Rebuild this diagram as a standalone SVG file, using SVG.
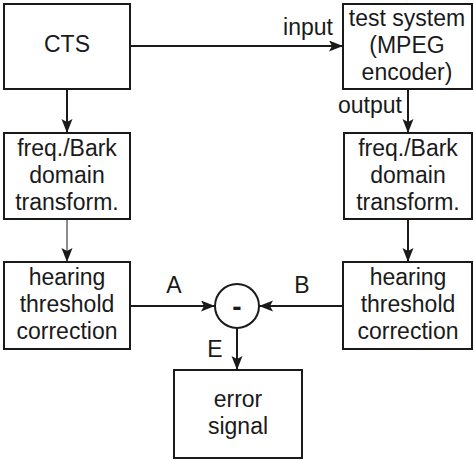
<svg xmlns="http://www.w3.org/2000/svg" width="474" height="460" viewBox="0 0 474 460">
<style>
.box{fill:#fff;stroke:#1a1a1a;stroke-width:2}
.t{font-family:"Liberation Sans",Arial,sans-serif;font-size:23px;fill:#1a1a1a;text-anchor:middle}
.lbl{font-family:"Liberation Sans",Arial,sans-serif;font-size:23px;fill:#1a1a1a;text-anchor:middle}
.c{stroke:#1a1a1a;stroke-width:2;fill:none}
.thin{stroke:#1a1a1a;stroke-width:1;fill:none}
</style>
<defs>
<marker id="ah" markerUnits="userSpaceOnUse" markerWidth="15" markerHeight="12" refX="14" refY="5.5" orient="auto">
<path d="M0,0 L14,5.5 L0,11 L3,5.5 z" fill="#1a1a1a"/>
</marker>
</defs>
<rect width="474" height="460" fill="#fff"/>
<g id="connectors">
<line class="c" x1="67" y1="89" x2="67" y2="133" marker-end="url(#ah)"/>
<line class="c" x1="130" y1="46" x2="343" y2="46" marker-end="url(#ah)"/>
<line class="c" x1="408" y1="89" x2="408" y2="133" marker-end="url(#ah)"/>
<line class="thin" x1="67" y1="219" x2="67" y2="262" marker-end="url(#ah)"/>
<line class="c" x1="408" y1="219" x2="408" y2="262" marker-end="url(#ah)"/>
<line class="c" x1="130" y1="306" x2="215" y2="306" marker-end="url(#ah)"/>
<line class="c" x1="343" y1="306" x2="259" y2="306" marker-end="url(#ah)"/>
<line class="c" x1="237" y1="328" x2="237" y2="370" marker-end="url(#ah)"/>
<text class="lbl" x="308" y="35">input</text>
<text class="lbl" x="370" y="113">output</text>
<text class="lbl" x="174" y="293">A</text>
<text class="lbl" x="302" y="293">B</text>
<text class="lbl" x="215" y="357">E</text>
</g>
<g id="cts">
<rect class="box" x="4" y="4" width="126" height="85"/>
<text class="t" x="67" y="52">CTS</text>
</g>
<g id="test-system">
<rect class="box" x="343" y="4" width="129" height="85"/>
<text class="t" x="407" y="26">test system</text>
<text class="t" x="407" y="53">(MPEG</text>
<text class="t" x="407" y="80">encoder)</text>
</g>
<g id="freq-left">
<rect class="box" x="4" y="133" width="126" height="86"/>
<text class="t" x="67" y="156">freq./Bark</text>
<text class="t" x="67" y="183">domain</text>
<text class="t" x="67" y="210">transform.</text>
</g>
<g id="freq-right">
<rect class="box" x="344" y="133" width="128" height="86"/>
<text class="t" x="408" y="156">freq./Bark</text>
<text class="t" x="408" y="183">domain</text>
<text class="t" x="408" y="210">transform.</text>
</g>
<g id="hearing-left">
<rect class="box" x="4" y="262" width="126" height="87"/>
<text class="t" x="67" y="285">hearing</text>
<text class="t" x="67" y="312">threshold</text>
<text class="t" x="67" y="339">correction</text>
</g>
<g id="hearing-right">
<rect class="box" x="343" y="262" width="129" height="87"/>
<text class="t" x="408" y="285">hearing</text>
<text class="t" x="408" y="312">threshold</text>
<text class="t" x="408" y="339">correction</text>
</g>
<g id="subtract">
<circle class="c" cx="237" cy="306" r="22" fill="#fff"/>
<text class="t" x="237" y="316" style="font-weight:bold;font-size:28px">-</text>
</g>
<g id="error-signal">
<rect class="box" x="174" y="370" width="128" height="88"/>
<text class="t" x="238" y="407">error</text>
<text class="t" x="238" y="434">signal</text>
</g>
</svg>
